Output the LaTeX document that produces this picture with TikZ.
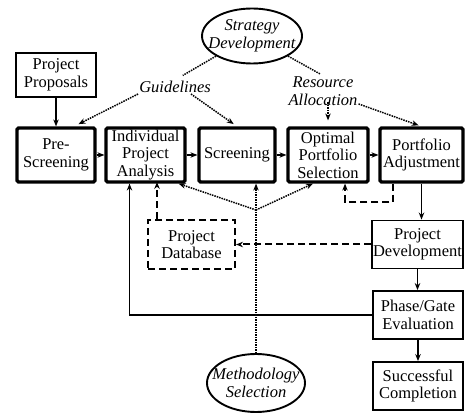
\documentclass[tikz,border=0pt]{standalone}
\usepackage{fontspec}
\setmainfont{Liberation Serif}
\usetikzlibrary{shapes.geometric,arrows.meta}

\tikzset{
  stage/.style={draw, line width=3.2pt, rounded corners=1.5pt, minimum width=#1,
    minimum height=54pt, inner sep=0.5pt, align=center},
  box/.style={draw, line width=1.9pt, minimum width=#1, minimum height=48pt,
    inner sep=0.5pt, align=center},
  oval/.style={draw, ellipse, line width=1.9pt, inner sep=0pt},
  ovaltext/.style={font=\fontsize{16.5}{17.5}\selectfont\itshape, align=center, inner sep=1pt},
  flow/.style={->, line width=1.9pt},
  dotline/.style={densely dotted, line width=1.5pt},
  dashline/.style={dash pattern=on 7pt off 4pt, line width=2pt},
}

\begin{document}
\begin{tikzpicture}[x=1pt, y=-1pt, >={Stealth[length=7pt,width=5.5pt]},
    font=\fontsize{16.5}{17.5}\selectfont]
  \useasboundingbox (0,0) rectangle (474,414);

  % Ovals (strategy on top, methodology at the bottom)
  \node[oval, minimum width=100pt, minimum height=55pt] (strat) at (252,36) {};
  \node[ovaltext] at (strat) {Strategy\\Development};
  \node[oval, minimum width=98pt, minimum height=58pt] (meth) at (256,383) {};
  \node[ovaltext] at (meth) {Methodology\\Selection};

  % Labels under the strategy oval
  \node[ovaltext] (guide) at (175,87) {Guidelines};
  \node[ovaltext] (resalloc) at (323,91) {Resource\\Allocation};

  % Proposals and the main row of stages
  \node[box=80pt, minimum height=44pt] (prop) at (56,75) {Project\\Proposals};
  \node[stage=78pt] (pre)  at (56,155)    {Pre-\\Screening};
  \node[stage=79pt] (ipa)  at (145.5,155) {Individual\\Project\\Analysis};
  \node[stage=76pt] (scr)  at (237,155)   {Screening};
  \node[stage=80pt] (ops)  at (328,155)   {Optimal\\Portfolio\\Selection};
  \node[stage=83pt] (padj) at (421.5,155) {Portfolio\\Adjustment};

  % Right column and database
  \node[box=91pt] (pdev)  at (417.5,244.5) {Project\\Development};
  \node[box=90pt] (peval) at (418,315)     {Phase/Gate\\Evaluation};
  \node[box=90pt] (succ)  at (418,386)     {Successful\\Completion};
  \node[box=87pt, minimum height=49pt, dashline] (pdb) at (191.5,244.5) {Project\\Database};

  % Strategy -> guidelines / resource allocation
  \draw[dotline, shorten >=9pt] (strat.south west) -- (guide.north);
  \draw[dotline, shorten >=3pt] (strat.south east) -- (resalloc.north);
  \draw[dotline, ->, shorten >=5pt] (guide.south west) -- ([xshift=18pt]pre.north);
  \draw[dotline, ->, shorten >=4pt] ([xshift=16pt]guide.south) -- (scr.north);
  \draw[dotline, ->, shorten >=6pt] ([yshift=4pt]resalloc.south -| ops.north) -- (ops.north);
  \draw[dotline, ->, shorten >=3pt] (resalloc.-20) -- (padj.north);

  % Main flow
  \draw[flow] (prop) -- (pre);
  \foreach \a/\b in {pre/ipa, ipa/scr, scr/ops, ops/padj}
    \draw[flow] (\a) -- (\b);

  % Methodology feeds analysis, screening and selection
  \coordinate (mj) at (256,210);
  \draw[dotline, ->] (meth.north) -- (meth.north |- scr.south);
  \draw[dotline, ->] (mj) -- ([xshift=-8pt]ipa.south east);
  \draw[dotline, ->] (mj) -- ([xshift=-15pt]ops.south);

  % Adjustment loop and database
  \draw[dashline, ->] ([xshift=15pt]padj.south west) -- ++(0,18) -| ([xshift=17pt]ops.south);
  \draw[dashline, ->] (pdev) -- (pdb);
  \draw[dashline, ->] (pdb.north west) ++(10,0) -- ++(0,-37);

  % Development path
  \draw[flow] (padj.south) -- (padj.south |- pdev.north);
  \draw[flow] (pdev.south) -- (pdev.south |- peval.north);
  \draw[flow] (peval.south) -- (peval.south |- succ.north);
  \draw[flow] (peval.west) -| ([xshift=-16pt]ipa.south);
\end{tikzpicture}
\end{document}
